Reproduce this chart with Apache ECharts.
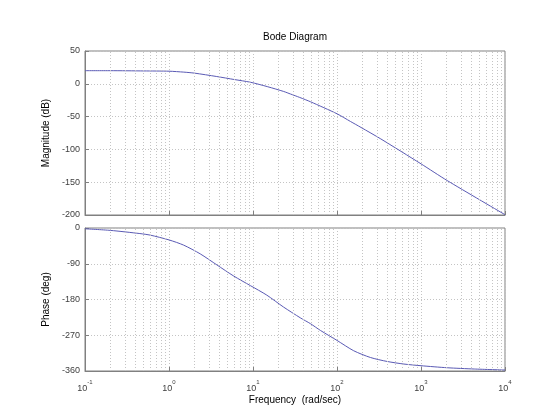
<!DOCTYPE html>
<html>
<head>
<meta charset="utf-8">
<script src="https://cdn.jsdelivr.net/npm/echarts@6/dist/echarts.min.js"></script>
<style>
  html, body { margin: 0; padding: 0; background: #fff; }
  #chart { width: 558px; height: 418px; }
</style>
</head>
<body>
<div id="chart"></div>
<script>
// frequencies (rad/sec) and values
var magFreq = [0.1, 0.2, 0.5, 1, 1.5, 2, 3.7, 6, 9.3, 15, 23.2, 28, 36, 48.6, 100, 145, 193, 332, 1000, 2050, 10000];
var magDb = [20, 20, 19.6, 19.2, 17.8, 16.3, 11.1, 6.5, 2.4, -4.5, -11.7, -15.6, -20.8, -27.5, -45.7, -57.5, -66.5, -84, -122, -147.5, -199.5];

var phaseFreq = [0.1, 0.2, 0.45, 0.6, 1, 1.49, 2.35, 3.72, 5.9, 9.3, 14.6, 23.1, 36.5, 48.4, 63.6, 100, 158, 250, 395, 626, 1000, 2050, 4300, 10000];
var phaseDeg = [-2, -6, -14, -18, -30, -43, -65, -93, -121, -145, -169, -199, -226, -241, -258, -283, -309, -326, -336, -342.5, -346.7, -351.8, -355, -357.5];

var magTicks = [50, 0, -50, -100, -150, -200];
var phaseTicks = [0, -90, -180, -270, -360];
var decades = [0.1, 1, 10, 100, 1000];

var minorLines = [];
decades.forEach(function (d) {
  for (var k = 2; k <= 9; k++) minorLines.push({ xAxis: k * d });
});

function pairs(xs, ys) {
  return xs.map(function (x, i) { return [x, ys[i]]; });
}

var font = 'Liberation Sans';
var gridStyle = { color: '#c4c4c4', type: [1, 2], width: 1 };
var axisLine = { show: true, onZero: false, lineStyle: { color: '#808080', width: 1 } };
var labelColor = '#404040';

function xAxisFor(idx, labels) {
  return {
    gridIndex: idx,
    type: 'log',
    logBase: 10,
    min: 0.1,
    max: 10000,
    axisLine: axisLine,
    axisTick: { show: true, inside: true, length: 4, lineStyle: { color: '#808080' } },
    splitLine: { show: true, lineStyle: gridStyle },
    axisLabel: {
      show: labels,
      margin: 8,
      color: labelColor,
      fontFamily: font,
      formatter: function (v) {
        var n = Math.round(Math.log10(v));
        return '{b|10}{e|' + n + '}';
      },
      rich: {
        b: { fontSize: 9, fontFamily: font, color: labelColor, lineHeight: 14, verticalAlign: 'bottom' },
        e: { fontSize: 6, fontFamily: font, color: labelColor, lineHeight: 14, verticalAlign: 'top' }
      }
    }
  };
}

function yAxisFor(idx, min, max, step, name) {
  return {
    gridIndex: idx,
    type: 'value',
    min: min,
    max: max,
    interval: step,
    name: name,
    nameLocation: 'middle',
    nameGap: 32,
    nameTextStyle: { color: '#000', fontFamily: font, fontSize: 10 },
    axisLine: axisLine,
    axisTick: { show: true, inside: true, length: 4, lineStyle: { color: '#808080' } },
    splitLine: { show: true, lineStyle: gridStyle },
    axisLabel: { color: labelColor, fontFamily: font, fontSize: 9, margin: 5 }
  };
}

var chart = echarts.init(document.getElementById('chart'), null, { renderer: 'canvas' });

var option = {
  backgroundColor: '#fff',
  animation: false,
  title: {
    text: 'Bode Diagram',
    left: 290,
    top: 27,
    textAlign: 'center',
    textStyle: { fontFamily: font, fontSize: 10, fontWeight: 'normal', color: '#000' }
  },
  grid: [
    { left: 85, top: 51, width: 420, height: 164, show: true, borderColor: '#808080', borderWidth: 1 },
    { left: 85, top: 228, width: 420, height: 143, show: true, borderColor: '#808080', borderWidth: 1 }
  ],
  xAxis: [
    xAxisFor(0, false),
    Object.assign(xAxisFor(1, true), {
      name: 'Frequency  (rad/sec)',
      nameLocation: 'middle',
      nameGap: 24,
      nameTextStyle: { color: '#000', fontFamily: font, fontSize: 10 }
    })
  ],
  yAxis: [
    yAxisFor(0, magTicks[magTicks.length - 1], magTicks[0], 50, 'Magnitude (dB)'),
    yAxisFor(1, phaseTicks[phaseTicks.length - 1], phaseTicks[0], 90, 'Phase (deg)')
  ],
  series: [
    {
      type: 'line',
      xAxisIndex: 0,
      yAxisIndex: 0,
      data: pairs(magFreq, magDb),
      smooth: 0.25,
      showSymbol: false,
      lineStyle: { color: '#5a5ab4', width: 1 },
      markLine: {
        silent: true,
        symbol: 'none',
        label: { show: false },
        lineStyle: gridStyle,
        data: minorLines
      },
      z: 3
    },
    {
      type: 'line',
      xAxisIndex: 1,
      yAxisIndex: 1,
      data: pairs(phaseFreq, phaseDeg),
      smooth: 0.25,
      showSymbol: false,
      lineStyle: { color: '#5a5ab4', width: 1 },
      markLine: {
        silent: true,
        symbol: 'none',
        label: { show: false },
        lineStyle: gridStyle,
        data: minorLines
      },
      z: 3
    }
  ]
};

chart.setOption(option);
</script>
</body>
</html>
